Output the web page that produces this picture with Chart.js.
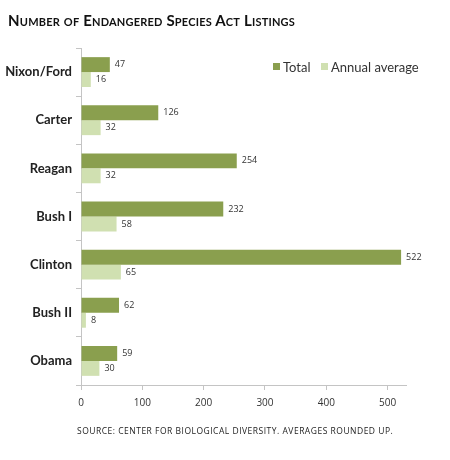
<!DOCTYPE html>
<html>
<head>
<meta charset="utf-8">
<script src="https://cdn.jsdelivr.net/npm/chart.js@4"></script>
<style>
    body { margin: 0; background: #fff; }
    #wrap { position: relative; width: 450px; height: 460px; }
    #title {
        position: absolute; left: 8px; top: 11px;
        font: 700 15px Lato, sans-serif;
        font-variant: small-caps; letter-spacing: 0.2px; color: #111;
    }
    #source {
        position: absolute; left: 77px; top: 425px;
        font: 400 8.5px 'Open Sans', sans-serif;
        letter-spacing: 0.5px; color: #222;
    }
</style>
</head>
<body>
<div id="wrap">
    <canvas id="myChart" width="450" height="460"></canvas>
    <div id="title">Number of Endangered Species Act Listings</div>
    <div id="source">SOURCE: CENTER FOR BIOLOGICAL DIVERSITY. AVERAGES ROUNDED UP.</div>
</div>
<script>
const presidents = ["Nixon/Ford", "Carter", "Reagan", "Bush I", "Clinton", "Bush II", "Obama"];
const totals = [47, 126, 254, 232, 522, 62, 59];
const averages = [16, 32, 32, 58, 65, 8, 30];
const seriesNames = ["Total", "Annual average"];
const xTicks = [0, 100, 200, 300, 400, 500];

const darkGreen = '#8a9f4e';
const lightGreen = '#d0e0b1';
const axisGray = '#c4c4c4';

// value labels at the end of each bar
const barLabels = {
    id: 'barLabels',
    afterDatasetsDraw(chart) {
        const ctx = chart.ctx;
        ctx.save();
        ctx.font = "9px 'Open Sans', sans-serif";
        ctx.fillStyle = '#333';
        ctx.textBaseline = 'middle';
        chart.data.datasets.forEach((ds, i) => {
            chart.getDatasetMeta(i).data.forEach((bar, j) => {
                ctx.fillText(ds.data[j], bar.x + 5, bar.y);
            });
        });
        ctx.restore();
    }
};

// legend drawn inside the plot, top right
const insideLegend = {
    id: 'insideLegend',
    afterDraw(chart) {
        const ctx = chart.ctx;
        const starts = [273, 321];
        ctx.save();
        ctx.font = "13px Lato, sans-serif";
        ctx.textBaseline = 'middle';
        chart.data.datasets.forEach((ds, i) => {
            ctx.fillStyle = ds.backgroundColor;
            ctx.fillRect(starts[i], 63, 7, 7);
            ctx.fillStyle = '#333';
            ctx.fillText(ds.label, starts[i] + 10, 68);
        });
        ctx.restore();
    }
};

const config = {
    type: 'bar',
    data: {
        labels: presidents,
        datasets: [
            { label: seriesNames[0], data: totals, backgroundColor: darkGreen },
            { label: seriesNames[1], data: averages, backgroundColor: lightGreen }
        ]
    },
    options: {
        indexAxis: 'y',
        responsive: false,
        animation: false,
        categoryPercentage: 0.62,
        barPercentage: 1.0,
        layout: { padding: { left: 0, right: 44, top: 48, bottom: 45 } },
        scales: {
            y: {
                afterFit: (scale) => { scale.width = 81; },
                grid: { drawOnChartArea: false, tickLength: 5, color: axisGray },
                border: { color: axisGray },
                ticks: {
                    padding: 4,
                    color: '#222',
                    font: { family: "Lato, sans-serif", size: 13, weight: 'bold' }
                }
            },
            x: {
                min: 0,
                max: 530,
                afterFit: (scale) => { scale.height = 30; },
                afterBuildTicks: (scale) => { scale.ticks = xTicks.map((v) => ({ value: v })); },
                grid: { drawOnChartArea: false, tickLength: 5, color: axisGray },
                border: { color: axisGray },
                ticks: {
                    padding: 7,
                    color: '#333',
                    font: { family: "'Open Sans', sans-serif", size: 10 }
                }
            }
        },
        plugins: {
            legend: { display: false },
            tooltip: { enabled: false }
        }
    },
    plugins: [barLabels, insideLegend]
};

new Chart(document.getElementById('myChart'), config);
</script>
</body>
</html>
